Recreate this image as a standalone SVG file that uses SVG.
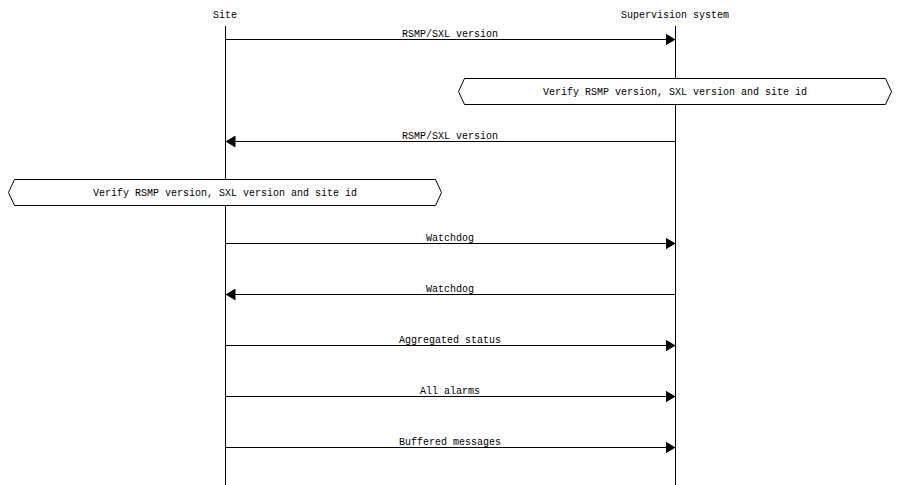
<svg xmlns="http://www.w3.org/2000/svg" width="900" height="485" viewBox="0 0 900 485">
<defs>
<marker id="ah" markerWidth="10" markerHeight="12" refX="10" refY="6" orient="auto" markerUnits="userSpaceOnUse">
<path d="M0,0 L10,6 L0,12 Z" fill="#000"/>
</marker>
<style>
text{font-family:"Liberation Mono","DejaVu Sans Mono",monospace;font-size:10px;fill:#000;text-anchor:middle}
.life{stroke:#000;stroke-width:1}
.msg{stroke:#000;stroke-width:1;fill:none;marker-end:url(#ah)}
.box{fill:#fff;stroke:#000;stroke-width:1}
</style>
</defs>
<rect width="900" height="485" fill="#fff"/>
<g id="site">
<text x="225" y="18">Site</text>
<line class="life" x1="225.5" y1="26" x2="225.5" y2="485"/>
</g>
<g id="supervision">
<text x="675" y="18">Supervision system</text>
<line class="life" x1="675.5" y1="26" x2="675.5" y2="485"/>
</g>
<g id="connectors">
<line class="msg" x1="225.5" y1="39.5" x2="675.5" y2="39.5"/>
<text x="450" y="37">RSMP/SXL version</text>
<line class="msg" x1="675.5" y1="141.5" x2="225.5" y2="141.5"/>
<text x="450" y="139">RSMP/SXL version</text>
<line class="msg" x1="225.5" y1="243.5" x2="675.5" y2="243.5"/>
<text x="450" y="241">Watchdog</text>
<line class="msg" x1="675.5" y1="294.5" x2="225.5" y2="294.5"/>
<text x="450" y="292">Watchdog</text>
<line class="msg" x1="225.5" y1="345.5" x2="675.5" y2="345.5"/>
<text x="450" y="343">Aggregated status</text>
<line class="msg" x1="225.5" y1="396.5" x2="675.5" y2="396.5"/>
<text x="450" y="394">All alarms</text>
<line class="msg" x1="225.5" y1="447.5" x2="675.5" y2="447.5"/>
<text x="450" y="445">Buffered messages</text>
</g>
<g id="verify-supervision">
<polygon class="box" points="464.5,78.5 885.5,78.5 891.5,91.5 885.5,104.5 464.5,104.5 458.5,91.5"/>
<text x="675" y="95">Verify RSMP version, SXL version and site id</text>
</g>
<g id="verify-site">
<polygon class="box" points="14.5,179.5 435.5,179.5 441.5,192.5 435.5,205.5 14.5,205.5 8.5,192.5"/>
<text x="225" y="196">Verify RSMP version, SXL version and site id</text>
</g>
</svg>
